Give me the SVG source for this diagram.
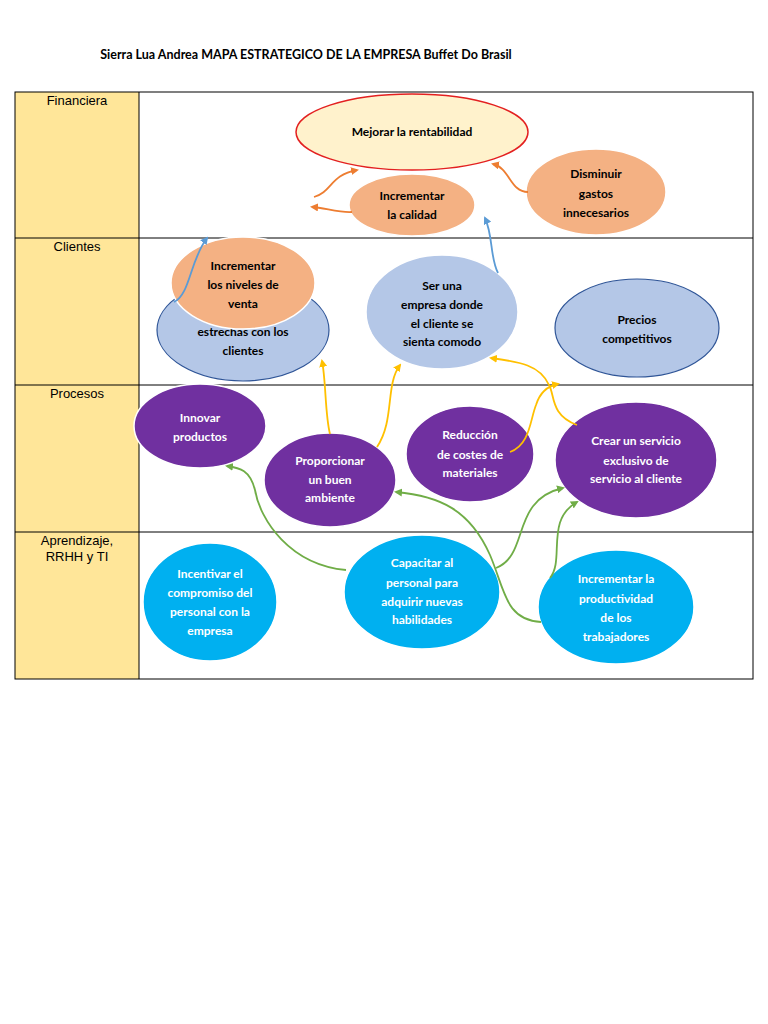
<svg xmlns="http://www.w3.org/2000/svg" width="768" height="1024" viewBox="0 0 768 1024">
<style>
text{font-family:Lato,"Liberation Sans",sans-serif;font-size:12px;text-anchor:middle}
.b{font-weight:bold}
.w{fill:#fff;font-weight:bold}
.k{fill:#000;font-weight:bold}
.lab{font-family:"Liberation Sans",Arial,sans-serif;font-size:13px}
.or{fill:#F4B183;stroke:#fff;stroke-width:1.5}
.bl{fill:#B4C7E7;stroke:#2F5597;stroke-width:1.2}
.pu{fill:#7030A0;stroke:#fff;stroke-width:1.5}
.cy{fill:#00B0F0;stroke:#fff;stroke-width:1.5}
.c{fill:none;stroke-width:1.8}
</style>
<defs>
<marker id="ao" markerWidth="8" markerHeight="8" refX="6" refY="4" orient="auto" markerUnits="userSpaceOnUse"><path d="M0,0L8,4L0,8z" fill="#ED7D31"/></marker>
<marker id="ab" markerWidth="8" markerHeight="8" refX="6" refY="4" orient="auto" markerUnits="userSpaceOnUse"><path d="M0,0L8,4L0,8z" fill="#5B9BD5"/></marker>
<marker id="ay" markerWidth="8" markerHeight="8" refX="6" refY="4" orient="auto" markerUnits="userSpaceOnUse"><path d="M0,0L8,4L0,8z" fill="#FFC000"/></marker>
<marker id="ag" markerWidth="8" markerHeight="8" refX="6" refY="4" orient="auto" markerUnits="userSpaceOnUse"><path d="M0,0L8,4L0,8z" fill="#70AD47"/></marker>
</defs>
<rect width="768" height="1024" fill="#fff"/>
<text x="306" y="59" class="b" style="font-size:12.5px">Sierra Lua Andrea MAPA ESTRATEGICO DE LA EMPRESA Buffet Do Brasil</text>
<g id="table">
<rect x="15" y="92" width="124" height="587" fill="#FFE699"/>
<rect x="15" y="92" width="738" height="587" fill="none" stroke="#000"/>
<line x1="139" y1="92" x2="139" y2="679" stroke="#000"/>
<line x1="15" y1="238" x2="753" y2="238" stroke="#000"/>
<line x1="15" y1="385" x2="753" y2="385" stroke="#000"/>
<line x1="15" y1="532" x2="753" y2="532" stroke="#000"/>
<text x="77" y="105" class="lab">Financiera</text>
<text x="77" y="251" class="lab">Clientes</text>
<text x="77" y="398" class="lab">Procesos</text>
<text x="77" y="545" class="lab">Aprendizaje,</text>
<text x="77" y="561" class="lab">RRHH y TI</text>
</g>
<g id="n-mejorar"><ellipse cx="412" cy="132" rx="116" ry="38" fill="#FFF2CC" stroke="#E32020" stroke-width="1.5"/><text x="412" y="136" class="k">Mejorar la rentabilidad</text></g>
<g id="n-calidad"><ellipse cx="412" cy="205" rx="63" ry="31" class="or"/><text x="412" y="200" class="k">Incrementar</text><text x="412" y="219" class="k">la calidad</text></g>
<g id="n-gastos"><ellipse cx="596" cy="192" rx="70" ry="43" class="or"/><text x="596" y="178" class="k">Disminuir</text><text x="596" y="198" class="k">gastos</text><text x="596" y="217" class="k">innecesarios</text></g>
<g id="n-estrechas"><ellipse cx="243" cy="330" rx="86" ry="51" class="bl"/><text x="243" y="336" class="k">estrechas con los</text><text x="243" y="355" class="k">clientes</text></g>
<g id="n-ventas"><ellipse cx="243" cy="283" rx="72" ry="46" class="or"/><text x="243" y="270" class="k">Incrementar</text><text x="243" y="289" class="k">los niveles de</text><text x="243" y="308" class="k">venta</text></g>
<g id="n-ser"><ellipse cx="442" cy="312" rx="76" ry="57" class="or" style="fill:#B4C7E7"/><text x="442" y="290" class="k">Ser una</text><text x="442" y="309" class="k">empresa donde</text><text x="442" y="328" class="k">el cliente se</text><text x="442" y="346" class="k">sienta comodo</text></g>
<g id="n-precios"><ellipse cx="637" cy="328" rx="82" ry="49" class="bl"/><text x="637" y="324" class="k">Precios</text><text x="637" y="343" class="k">competitivos</text></g>
<g id="n-innovar"><ellipse cx="200" cy="426" rx="66" ry="42" class="pu"/><text x="200" y="422" class="w">Innovar</text><text x="200" y="441" class="w">productos</text></g>
<g id="n-ambiente"><ellipse cx="330" cy="480" rx="66" ry="47" class="pu"/><text x="330" y="465" class="w">Proporcionar</text><text x="330" y="484" class="w">un buen</text><text x="330" y="502" class="w">ambiente</text></g>
<g id="n-reduccion"><ellipse cx="470" cy="454" rx="64" ry="48" class="pu"/><text x="470" y="439" class="w">Reducción</text><text x="470" y="459" class="w">de costes de</text><text x="470" y="477" class="w">materiales</text></g>
<g id="n-crear"><ellipse cx="636" cy="460" rx="81" ry="58" class="pu"/><text x="636" y="445" class="w">Crear un servicio</text><text x="636" y="465" class="w">exclusivo de</text><text x="636" y="483" class="w">servicio al cliente</text></g>
<g id="n-incentivar"><ellipse cx="210" cy="602" rx="67" ry="59" class="cy"/><text x="210" y="578" class="w">Incentivar el</text><text x="210" y="597" class="w">compromiso del</text><text x="210" y="616" class="w">personal con la</text><text x="210" y="635" class="w">empresa</text></g>
<g id="n-capacitar"><ellipse cx="422" cy="592" rx="78" ry="57" class="cy"/><text x="422" y="567" class="w">Capacitar al</text><text x="422" y="587" class="w">personal para</text><text x="422" y="606" class="w">adquirir nuevas</text><text x="422" y="624" class="w">habilidades</text></g>
<g id="n-productividad"><ellipse cx="616" cy="607" rx="78" ry="57" class="cy"/><text x="616" y="583" class="w">Incrementar la</text><text x="616" y="603" class="w">productividad</text><text x="616" y="622" class="w">de los</text><text x="616" y="641" class="w">trabajadores</text></g>
<g id="connectors">
<path class="c" stroke="#ED7D31" marker-end="url(#ao)" d="M314,197 C332,192 330,175 357,170"/>
<path class="c" stroke="#ED7D31" marker-end="url(#ao)" d="M352,212 C340,213 325,208 312,207"/>
<path class="c" stroke="#ED7D31" marker-end="url(#ao)" d="M528,192 C510,192 510,168 493,164"/>
<path class="c" stroke="#5B9BD5" marker-end="url(#ab)" d="M497,272 C488,260 492,240 435,218" transform="translate(0,0)" style="display:none"/>
<path class="c" stroke="#5B9BD5" marker-end="url(#ab)" d="M449,274 C440,255 443,235 436,218" transform="translate(0,0)" style="display:none"/>
<path class="c" stroke="#5B9BD5" marker-end="url(#ab)" d="M498,273 C490,258 493,235 485,218"/>
<path class="c" stroke="#5B9BD5" marker-end="url(#ab)" d="M174,302 C190,295 190,260 207,238"/>
<path class="c" stroke="#FFC000" marker-end="url(#ay)" d="M330,434 C325,415 326,380 322,361"/>
<path class="c" stroke="#FFC000" marker-end="url(#ay)" d="M377,447 C395,420 385,385 400,365"/>
<path class="c" stroke="#FFC000" marker-end="url(#ay)" d="M577,425 C550,415 555,395 549,385 C540,365 520,362 491,358"/>
<path class="c" stroke="#FFC000" marker-end="url(#ay)" d="M510,452 C530,445 530,420 536,405 C540,392 548,386 558,384"/>
<path class="c" stroke="#70AD47" marker-end="url(#ag)" d="M346,570 C290,565 260,520 255,490 C250,470 240,468 227,466"/>
<path class="c" stroke="#70AD47" marker-end="url(#ag)" d="M541,622 C505,620 505,590 490,555 C470,510 440,496 396,492"/>
<path class="c" stroke="#70AD47" marker-end="url(#ag)" d="M496,568 C530,555 510,500 563,488"/>
<path class="c" stroke="#70AD47" marker-end="url(#ag)" d="M550,578 C565,560 545,520 577,502"/>
</g>
</svg>
